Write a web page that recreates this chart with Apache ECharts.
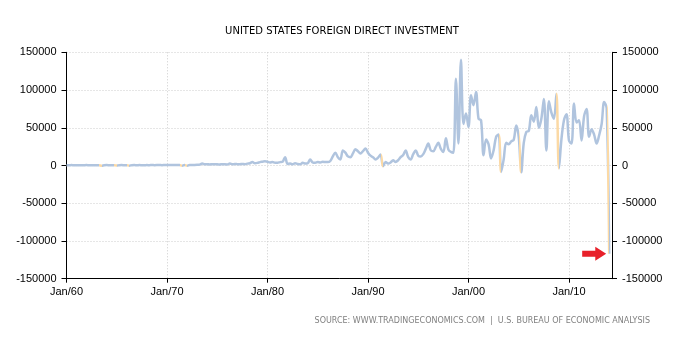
<!DOCTYPE html>
<html>
<head>
<meta charset="utf-8">
<script src="https://cdn.jsdelivr.net/npm/echarts@6/dist/echarts.min.js"></script>
<style>
html,body{margin:0;padding:0;background:#fff;}
#c{width:684px;height:342px;}
</style>
</head>
<body>
<div id="c"></div>
<script>
const startYear = 1960;
const titleText = 'UNITED STATES FOREIGN DIRECT INVESTMENT';
const sourceText = 'SOURCE: WWW.TRADINGECONOMICS.COM  |  U.S. BUREAU OF ECONOMIC ANALYSIS';
const tickYears = [1960, 1970, 1980, 1990, 2000, 2010];

// quarterly values, USD million
const fdi1960s = [
  400, 350, 500, 300,  450, 380, 300, 420,  500, 350, 400, 300,  450, 380, -200, 400,
  500, 420, 350, 450,  -150, 400, 500, 380,  420, -200, 450, 500,  400, 520, 450, 380,
  500, 450, 550, 480,  520, 600, 480, 550
];
const fdi1970s = [
  600, 500, 650, 550,  700, 600, -300, 650,  -200, 700, 800, 750,  900, 1200, 2500, 1500,
  1800, 1400, 1700, 1500,  1600, 1300, 1800, 1500,  1400, 2600, 1700, 1900,  1800, 1700, 2000, 1800,
  2500, 3000, 4500, 3000,  3500, 4500, 5000, 5500
];
const fdi1980s = [
  5000, 4000, 4500, 3500,  3500, 4500, 5000, 11000,  2000, 2500, 1500, 3000,  2000, 1500, 3500, 2500,
  3000, 8000, 4000, 3500,  4500, 4000, 5000, 4500,  4500, 6000, 12000, 17000,  11000, 8000, 20000, 17000,
  12000, 11000, 16000, 21500,  19000, 16000, 19000, 22500
];
const fdi1990s = [
  17000, 13000, 11000, 8000,  10500, 14500, -1000, 4800,  2600, 4000, 7000, 4800,  7000, 11000, 14000, 20000,
  11000, 8000, 15000, 20000,  13000, 12000, 15000, 22000,  29000, 20000, 19000, 24600,  30000, 22000, 18000, 36000,
  21000, 18000, 17000, 115000,  29000, 140000, 55000, 69000
];
const fdi2000s = [
  51000, 93000, 80000, 97500,  62000, 60000, 13600, 34400,  28000, 9300, 20000, 38000,  41000, -8500, 8000, 30000,
  28000, 32000, 34000, 53000,  38000, -9000, 30000, 44500,  46000, 66500, 58000, 77600,  50000, 62000, 88000, 20000,
  85000, 70000, 62000, 95000,  -4000, 35000, 60000, 68000
];
const fdi2010s = [
  33000, 29000, 82000, 57000,  60000, 33000, 65000, 75000,  38000, 48000, 41000, 29000,  40000, 55000, 84000, 76000,
  -117000
];

const values = [].concat(fdi1960s, fdi1970s, fdi1980s, fdi1990s, fdi2000s, fdi2010s);
const points = values.map((v, i) => [startYear + i / 4, v]);

const BLUE = '#b0c4de';
const ORANGE = '#fbd9a5';
const pieces = [];
for (let i = 1; i < points.length; i++) {
  if (values[i] < 0) pieces.push({ gt: points[i - 1][0], lte: points[i][0], color: ORANGE });
}
const last = points[points.length - 1];

const chart = echarts.init(document.getElementById('c'), null, { renderer: 'canvas' });
const labelFont = { fontFamily: 'Liberation Sans, Arial, sans-serif', fontSize: 11, color: '#000' };
const plainNum = v => String(v);

chart.setOption({
  animation: false,
  backgroundColor: '#fff',
  title: {
    text: titleText,
    left: 'center',
    top: 21,
    textStyle: { fontFamily: 'DejaVu Sans, sans-serif', fontSize: 10, fontWeight: 'normal', color: '#000' }
  },
  graphic: [{
    type: 'text',
    right: 34,
    top: 317,
    style: { text: sourceText, fill: '#808080', font: '8px "DejaVu Sans", sans-serif' }
  }],
  grid: { left: 66.5, right: 72, top: 52.3, bottom: 63.3, containLabel: false },
  visualMap: {
    show: false,
    type: 'piecewise',
    dimension: 0,
    seriesIndex: 0,
    pieces: pieces,
    outOfRange: { color: BLUE }
  },
  xAxis: {
    type: 'value',
    min: 1960,
    max: 2014.28,
    interval: 10,
    axisLine: { show: true, onZero: false, lineStyle: { color: '#000', width: 1 } },
    axisTick: { show: true, length: 4, lineStyle: { color: '#000' }, customValues: tickYears },
    axisLabel: Object.assign({
      customValues: tickYears,
      margin: 8,
      formatter: v => 'Jan/' + String(v).slice(2)
    }, labelFont),
    splitLine: { show: true, lineStyle: { color: '#cccccc', type: [1, 2] } }
  },
  yAxis: [{
    type: 'value',
    position: 'left',
    min: -150000,
    max: 150000,
    interval: 50000,
    axisLine: { show: true, lineStyle: { color: '#000' } },
    axisTick: { show: true, length: 5, lineStyle: { color: '#000' } },
    axisLabel: Object.assign({ margin: 10, formatter: plainNum }, labelFont),
    splitLine: { show: true, lineStyle: { color: '#cccccc', type: [1, 2] } }
  }, {
    type: 'value',
    position: 'right',
    min: -150000,
    max: 150000,
    interval: 50000,
    axisLine: { show: true, lineStyle: { color: '#000' } },
    axisTick: { show: true, length: 5, lineStyle: { color: '#000' } },
    axisLabel: Object.assign({ margin: 10, formatter: plainNum }, labelFont),
    splitLine: { show: false }
  }],
  series: [{
    type: 'line',
    data: points,
    showSymbol: false,
    smooth: 0.35,
    lineStyle: { width: 2.5 },
    markPoint: {
      silent: true,
      symbol: 'path://M0,4 L12,4 L12,0 L22,7 L12,14 L12,10 L0,10 Z',
      symbolSize: [24, 14],
      symbolOffset: [-15, 0],
      itemStyle: { color: '#e8202a' },
      label: { show: false },
      data: [{ coord: last }]
    }
  }]
});
</script>
</body>
</html>
